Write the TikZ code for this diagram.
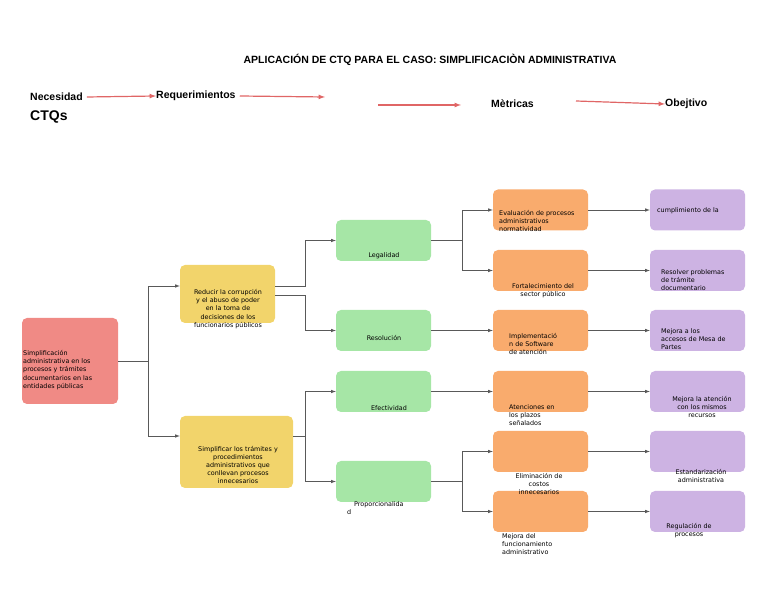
\documentclass[tikz,border=0pt]{standalone}
\usepackage{fontspec}
\setmainfont{DejaVu Sans}
\newfontfamily\headfont{Liberation Sans}
\usetikzlibrary{arrows}
\definecolor{boxred}{HTML}{F08A85}
\definecolor{boxyellow}{HTML}{F2D46B}
\definecolor{boxgreen}{HTML}{A6E6A6}
\definecolor{boxorange}{HTML}{F9AB6D}
\definecolor{boxpurple}{HTML}{CDB3E3}
\definecolor{headarrow}{HTML}{E06666}
\tikzset{
  box/.style={rounded corners=5pt, minimum width=95pt, minimum height=41pt},
  txt/.style={font=\fontsize{6.4}{8.2}\selectfont, inner sep=0pt},
  conn/.style={-latex, draw=black!65, line width=0.6pt},
  hdr/.style={font=\headfont\bfseries\fontsize{10.5}{12}\selectfont, inner sep=0pt},
  harrow/.style={->, >=latex, draw=headarrow, line width=1.2pt}
}
\begin{document}
\begin{tikzpicture}[x=1pt,y=1pt]
  \useasboundingbox (0,0) rectangle (768,594);

  % header
  \node[hdr] (title) at (430,534) {APLICACIÓN DE CTQ PARA EL CASO: SIMPLIFICACIÒN ADMINISTRATIVA};
  \node[hdr, anchor=west] (nec) at (30,497) {Necesidad};
  \node[hdr, anchor=west, font=\headfont\bfseries\fontsize{14}{16}\selectfont] (ctq) at (30,477) {CTQs};
  \node[hdr, anchor=west] (req) at (156,498) {Requerimientos};
  \node[hdr, anchor=west] (met) at (491,490) {Mètricas};
  \node[hdr, anchor=west] (obj) at (665,490) {Obejtivo};
  \coordinate (a1) at (325,497);
  \coordinate (a2s) at (378,489);
  \coordinate (a2e) at (461,489);
  \coordinate (a3s) at (576,493);
  \draw[harrow] (nec.east) ++(4,0) -- (req.west);
  \draw[harrow] (req.east) ++(4,0) -- (a1);
  \draw[harrow] (a2s) -- (a2e);
  \draw[harrow] (a3s) -- (obj.west);

  % boxes
  \node[box, fill=boxred, minimum width=96pt, minimum height=86pt] (need) at (70,233) {};
  \node[box, fill=boxyellow, minimum height=58pt] (req1) at (227.5,300) {};
  \node[box, fill=boxyellow, minimum width=113pt, minimum height=72pt] (req2) at (236.5,142) {};

  \node[box, fill=boxgreen] (leg) at (383.5,353.5) {};
  \node[box, fill=boxgreen] (res) at (383.5,263.5) {};
  \node[box, fill=boxgreen] (efe) at (383.5,202.5) {};
  \node[box, fill=boxgreen] (pro) at (383.5,112.5) {};

  \node[box, fill=boxorange] (m1) at (540.5,384) {};
  \node[box, fill=boxorange] (m2) at (540.5,323.5) {};
  \node[box, fill=boxorange] (m3) at (540.5,263.5) {};
  \node[box, fill=boxorange] (m4) at (540.5,202.5) {};
  \node[box, fill=boxorange] (m5) at (540.5,142.5) {};
  \node[box, fill=boxorange] (m6) at (540.5,82.5) {};

  \node[box, fill=boxpurple] (o1) at (697.5,384) {};
  \node[box, fill=boxpurple] (o2) at (697.5,323.5) {};
  \node[box, fill=boxpurple] (o3) at (697.5,263.5) {};
  \node[box, fill=boxpurple] (o4) at (697.5,202.5) {};
  \node[box, fill=boxpurple] (o5) at (697.5,142.5) {};
  \node[box, fill=boxpurple] (o6) at (697.5,82.5) {};

  % labels
  \node[txt, anchor=west, align=left] (needtxt) at (23,224) {Simplificación\\administrativa en los\\procesos y trámites\\documentarios en las\\entidades públicas};
  \node[txt, align=center] (req1txt) at (228,285) {Reducir la corrupción\\y el abuso de poder\\en la toma de\\decisiones de los\\funcionarios públicos};
  \node[txt, align=center] (req2txt) at (238,129) {Simplificar los trámites y\\procedimientos\\administrativos que\\conllevan procesos\\innecesarios};
  \node[txt] (legtxt) at (384,338) {Legalidad};
  \node[txt] (restxt) at (384,256) {Resolución};
  \node[txt] (efetxt) at (389,186) {Efectividad};
  \node[txt, anchor=north west, align=left] (protxt) at (347,93) {\hspace{7pt}Proporcionalida\\d};
  \node[txt, anchor=west, align=left] (m1txt) at (499,373) {Evaluación de procesos\\administrativos\\normatividad};
  \node[txt, align=center] (m2txt) at (543,303) {Fortalecimiento del\\sector público};
  \node[txt, anchor=west, align=left] (m3txt) at (509,250) {Implementació\\n de Software\\de atención};
  \node[txt, anchor=west, align=left] (m4txt) at (509,179) {Atenciones en\\los plazos\\señalados};
  \node[txt, align=center] (m5txt) at (539,110) {Eliminación de\\costos\\innecesarios};
  \node[txt, anchor=west, align=left] (m6txt) at (502,50) {Mejora del\\funcionamiento\\administrativo};
  \node[txt, anchor=west] (o1txt) at (657,383) {cumplimiento de la};
  \node[txt, anchor=west, align=left] (o2txt) at (661,314) {Resolver problemas\\de trámite\\documentario};
  \node[txt, anchor=west, align=left] (o3txt) at (661,255) {Mejora a los\\accesos de Mesa de\\Partes};
  \node[txt, align=center] (o4txt) at (702,187) {Mejora la atención\\con los mismos\\recursos};
  \node[txt, align=center] (o5txt) at (701,118) {Estandarización\\administrativa};
  \node[txt, align=center] (o6txt) at (689,63) {Regulación de\\procesos};

  % connectors
  \draw[conn] (need.east) -- ++(30,0) |- ([yshift=8]req1.west);
  \draw[conn] (need.east) -- ++(30,0) |- ([yshift=16]req2.west);
  \draw[conn] ([yshift=8]req1.east) -- ++(30,0) |- (leg.west);
  \draw[conn] ([yshift=-1]req1.east) -- ++(30,0) |- (res.west);
  \draw[conn] ([yshift=16]req2.east) -- ++(12,0) |- (efe.west);
  \draw[conn] ([yshift=16]req2.east) -- ++(12,0) |- (pro.west);
  \draw[conn] (leg.east) -- ++(31,0) |- (m1.west);
  \draw[conn] (leg.east) -- ++(31,0) |- (m2.west);
  \draw[conn] (res.east) -- (m3.west);
  \draw[conn] (efe.east) -- (m4.west);
  \draw[conn] (pro.east) -- ++(31,0) |- (m5.west);
  \draw[conn] (pro.east) -- ++(31,0) |- (m6.west);
  \foreach \i in {1,...,6}
    \draw[conn] (m\i.east) -- (o\i.west);
\end{tikzpicture}
\end{document}
